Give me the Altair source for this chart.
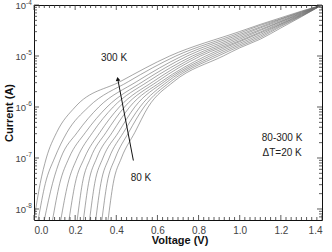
import altair as alt
import pandas as pd

# ---- data (voltage in V, log10 current) ----
temps = [300, 280, 260, 240, 220, 200, 180, 160, 140, 120, 100, 80]
# voltage at which each curve crosses the given log10(I) level
levels = [-8.22, -7.5, -7.0, -6.5, -6.0, -5.5, -5.0]
cross_v = {
    300: [0.00, 0.03, 0.06, 0.11, 0.20, 0.42, 0.66],
    280: [0.02, 0.055, 0.10, 0.16, 0.265, 0.46, 0.69],
    260: [0.05, 0.09, 0.13, 0.21, 0.315, 0.50, 0.72],
    240: [0.09, 0.125, 0.17, 0.25, 0.355, 0.53, 0.745],
    220: [0.13, 0.165, 0.21, 0.285, 0.385, 0.555, 0.77],
    200: [0.17, 0.20, 0.245, 0.32, 0.415, 0.58, 0.79],
    180: [0.21, 0.235, 0.275, 0.35, 0.44, 0.60, 0.81],
    160: [0.24, 0.265, 0.305, 0.38, 0.465, 0.62, 0.835],
    140: [0.27, 0.295, 0.335, 0.41, 0.49, 0.635, 0.855],
    120: [0.30, 0.325, 0.365, 0.435, 0.515, 0.65, 0.875],
    100: [0.33, 0.355, 0.395, 0.46, 0.535, 0.665, 0.895],
    80:  [0.36, 0.385, 0.425, 0.49, 0.555, 0.68, 0.92],
}
# log10(I) of each curve at the upper voltages
upper_v = [1.0, 1.1, 1.2, 1.3, 1.4]
upper_log = {
    300: [-4.52, -4.38, -4.25, -4.12, -4.0],
    280: [-4.55, -4.40, -4.27, -4.13, -4.0],
    260: [-4.58, -4.43, -4.28, -4.14, -4.0],
    240: [-4.61, -4.45, -4.30, -4.15, -4.0],
    220: [-4.64, -4.48, -4.32, -4.16, -4.0],
    200: [-4.67, -4.50, -4.33, -4.17, -4.0],
    180: [-4.70, -4.53, -4.35, -4.18, -4.0],
    160: [-4.72, -4.55, -4.37, -4.19, -4.0],
    140: [-4.75, -4.58, -4.38, -4.20, -4.0],
    120: [-4.78, -4.61, -4.40, -4.21, -4.0],
    100: [-4.81, -4.64, -4.42, -4.22, -4.0],
    80:  [-4.84, -4.67, -4.45, -4.23, -4.0],
}

x_major = [0.0, 0.2, 0.4, 0.6, 0.8, 1.0, 1.2, 1.4]
y_decades = [-8, -7, -6, -5, -4]

rows = []
for t in temps:
    for v, lg in zip(cross_v[t], levels):
        rows.append({"T": t, "V": v, "I": 10 ** lg})
    for v, lg in zip(upper_v, upper_log[t]):
        rows.append({"T": t, "V": v, "I": 10 ** lg})
curves = pd.DataFrame(rows)

W, H = 288, 215
YMIN, YMAX = 10 ** -8.216, 1e-4

xs = alt.Scale(domain=[0, 1.4], nice=False, zero=False)
ys = alt.Scale(type="log", domain=[YMIN, YMAX], nice=False)

lines = alt.Chart(curves).mark_line(
    stroke="#6a6a6a", strokeWidth=0.6, interpolate="monotone", clip=True
).encode(
    x=alt.X("V:Q", scale=xs,
            axis=alt.Axis(values=x_major, format=".1f", title=None, grid=False,
                          ticks=False, domain=False, labelFontSize=10,
                          labelFont="Liberation Sans", labelColor="#444444",
                          labelPadding=5)),
    y=alt.Y("I:Q", scale=ys, axis=None),
    detail="T:N",
    order="V:Q",
)

# ---- inward ticks on all four sides ----
x_minor = [round(i * 0.025, 3) for i in range(0, 57)]
xminor_df = pd.DataFrame({"V": [v for v in x_minor if v not in x_major]})
xmajor_df = pd.DataFrame({"V": x_major})
ymajor_df = pd.DataFrame({"I": [10 ** d for d in y_decades]})
yminor_vals = []
for d in [-9, -8, -7, -6, -5]:
    for k in range(2, 10):
        val = k * 10 ** d
        if YMIN < val < YMAX:
            yminor_vals.append(val)
yminor_df = pd.DataFrame({"I": yminor_vals})

tick_col = "#333333"


def xticks(df, ln):
    b = alt.Chart(df).mark_rule(stroke=tick_col, strokeWidth=0.8).encode(
        x=alt.X("V:Q", scale=xs), y=alt.value(H), y2=alt.value(H - ln))
    t = alt.Chart(df).mark_rule(stroke=tick_col, strokeWidth=0.8).encode(
        x=alt.X("V:Q", scale=xs), y=alt.value(0), y2=alt.value(ln))
    return b + t


def yticks(df, ln):
    l = alt.Chart(df).mark_rule(stroke=tick_col, strokeWidth=0.8).encode(
        y=alt.Y("I:Q", scale=ys), x=alt.value(0), x2=alt.value(ln))
    r = alt.Chart(df).mark_rule(stroke=tick_col, strokeWidth=0.8).encode(
        y=alt.Y("I:Q", scale=ys), x=alt.value(W), x2=alt.value(W - ln))
    return l + r


ticks = xticks(xminor_df, 3) + xticks(xmajor_df, 5) + yticks(yminor_df, 3) + yticks(ymajor_df, 5)

# ---- y tick labels 10^n ----
ylab_df = pd.DataFrame({"I": [10 ** d for d in y_decades],
                        "exp": [str(d) for d in y_decades]})
ylab_base = alt.Chart(ylab_df).mark_text(
    align="right", baseline="middle", fontSize=9.5, font="Liberation Sans",
    color="#444444", dy=1
).encode(y=alt.Y("I:Q", scale=ys), x=alt.value(-8), text=alt.value("10"))
ylab_exp = alt.Chart(ylab_df).mark_text(
    align="left", baseline="middle", fontSize=6.5, font="Liberation Sans",
    color="#444444", dy=-2.5
).encode(y=alt.Y("I:Q", scale=ys), x=alt.value(-8), text="exp:N")

# ---- titles ----
xtitle = alt.Chart().mark_text(
    fontSize=11, fontWeight="bold", font="Liberation Sans", color="#111111"
).encode(x=alt.value(146), y=alt.value(236), text=alt.value("Voltage (V)"))
ytitle = alt.Chart().mark_text(
    fontSize=11, fontWeight="bold", font="Liberation Sans", color="#111111", angle=270
).encode(x=alt.value(-24), y=alt.value(108), text=alt.value("Current (A)"))

# ---- annotations ----
ann_font = dict(fontSize=10, font="Liberation Sans", color="#222222")
t300 = alt.Chart().mark_text(**ann_font).encode(
    x=alt.datum(0.389, scale=xs), y=alt.datum(10 ** -5.04, scale=ys), text=alt.value("300 K"))
t80 = alt.Chart().mark_text(**ann_font).encode(
    x=alt.datum(0.52, scale=xs), y=alt.datum(10 ** -7.4, scale=ys), text=alt.value("80 K"))
trange = alt.Chart().mark_text(**ann_font).encode(
    x=alt.datum(1.206, scale=xs), y=alt.datum(10 ** -6.61, scale=ys), text=alt.value("80-300 K"))
tdelta = alt.Chart().mark_text(**ann_font).encode(
    x=alt.datum(1.206, scale=xs), y=alt.datum(10 ** -6.9, scale=ys), text=alt.value("ΔT=20 K"))

# ---- arrow from 80 K to 300 K ----
arrow_df = pd.DataFrame({"V": [0.483, 0.408], "I": [10 ** -7.05, 10 ** -5.47]})
arrow_line = alt.Chart(arrow_df).mark_line(stroke="#111111", strokeWidth=1).encode(
    x=alt.X("V:Q", scale=xs), y=alt.Y("I:Q", scale=ys))
arrow_head = alt.Chart().mark_point(
    shape="triangle-up", filled=True, color="#111111", size=22, angle=350, opacity=1
).encode(x=alt.datum(0.407, scale=xs), y=alt.datum(10 ** -5.45, scale=ys))

chart = alt.layer(
    lines, ticks, ylab_base, ylab_exp, xtitle, ytitle,
    t300, t80, trange, tdelta, arrow_line, arrow_head
).properties(
    width=W, height=H,
    autosize=alt.AutoSizeParams(type="none"),
    padding={"left": 34, "top": 5, "right": 10, "bottom": 32},
    background="white",
).configure_view(stroke="#111111", strokeWidth=1)

chart.save("out.html", embed_options={"renderer": "svg", "actions": False})
